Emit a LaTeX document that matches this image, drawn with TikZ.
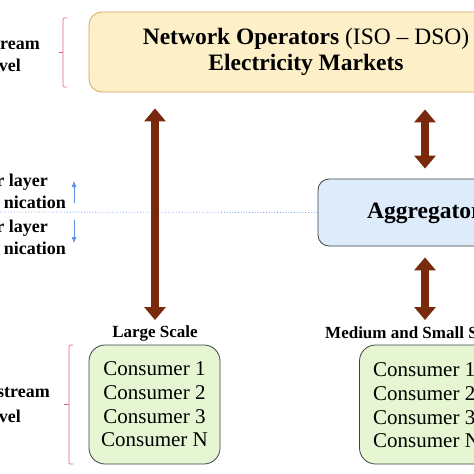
\documentclass[tikz,border=0pt]{standalone}
\usepackage{fontspec}
\setmainfont{Liberation Serif}
\usepackage{tikz}
\usetikzlibrary{arrows.meta,positioning,calc}
\definecolor{boxyellow}{HTML}{FDF0C8}
\definecolor{edgeyellow}{HTML}{D9A066}
\definecolor{boxblue}{HTML}{DDEBFA}
\definecolor{boxgreen}{HTML}{E6F6D2}
\definecolor{edgedark}{HTML}{3A4448}
\definecolor{arrowbrown}{HTML}{7A2A0C}
\definecolor{bracepink}{HTML}{D9608A}
\definecolor{linkblue}{HTML}{5B8EDC}

\begin{document}
\begin{tikzpicture}[x=1pt,y=-1pt,
  opsbox/.style={draw=edgeyellow,fill=boxyellow,line width=0.8pt,rounded corners=13pt,minimum width=434pt,minimum height=80pt,align=center,inner sep=0pt,font=\fontsize{23.5}{25.5}\selectfont},
  aggbox/.style={draw=edgedark,fill=boxblue,line width=0.8pt,rounded corners=11pt,minimum width=214pt,minimum height=67pt,inner sep=0pt},
  consbox/.style={draw=edgedark,fill=boxgreen,line width=0.8pt,rounded corners=16pt,minimum width=131pt,minimum height=119pt,align=center,inner sep=0pt,font=\fontsize{21}{23.7}\selectfont},
  scalelabel/.style={font=\fontsize{17}{19}\selectfont\bfseries,inner sep=0pt},
  sidelabel/.style={font=\fontsize{18}{20}\selectfont\bfseries,inner sep=0pt,anchor=east},
  bigarrow/.style={draw=arrowbrown,line width=7.5pt,>={Triangle[width=21pt,length=13pt]},<->},
  smallarrow/.style={draw=linkblue,line width=0.7pt,-{Latex[width=5pt,length=6pt]}},
  bracket/.style={draw=bracepink,line width=0.7pt,rounded corners=1pt}]
\useasboundingbox (0,0) rectangle (474,474);
\clip (0,0) rectangle (474,474);
% boxes
\node[opsbox] (ops) at (306,52) {\textbf{Network Operators} (ISO – DSO)\\\textbf{Electricity Markets}};
\node[aggbox] (agg) at (425,212.5) {};
\node[anchor=west,font=\fontsize{23.5}{25}\selectfont\bfseries,inner sep=0pt] (aggtext) at (367,213) {Aggregator};
\node[scalelabel] (large) at (155,333) {Large Scale};
\node[scalelabel,anchor=west] (medium) at (325,333) {Medium and Small Scale};
\node[consbox] (cons1) at (154.5,404.5) {Consumer 1\\Consumer 2\\Consumer 3\\Consumer N};
\node[consbox] (cons2) at (425,404.5) {};
\node[anchor=west,align=left,inner sep=0pt,font=\fontsize{21}{23.7}\selectfont] (cons2text) at (373,405.5) {Consumer 1\\Consumer 2\\Consumer 3\\Consumer N};
% layer line
\draw[draw=linkblue!80,line width=0.8pt,dotted] (0,212) -- (agg.west);
\draw[smallarrow] (74,203) -- (74,181);
\draw[smallarrow] (74,220) -- (74,243);
\node[sidelabel] (upa) at (48,182) {r layer};
\node[sidelabel] (upb) at (66,202) {nication};
\node[sidelabel] (lowa) at (48,228) {r layer};
\node[sidelabel] (lowb) at (66,248) {nication};
% level labels
\node[sidelabel] (ups) at (40,45) {ream};
\node[sidelabel] (upl) at (21,65) {vel};
\node[sidelabel] (downs) at (50,393) {stream};
\node[sidelabel] (downl) at (21,416) {vel};
\draw[bracket] (67,18) -- (63,18) -- (63,87) -- (67,87);
\draw[bracket] (63,52) -- (59,52);
\draw[bracket] (73,345) -- (69,345) -- (69,464) -- (73,464);
\draw[bracket] (69,404) -- (64,404);
% arrows
\draw[bigarrow,shorten <=16pt,shorten >=5pt] (large.north |- ops.south) -- (large.north);
\draw[bigarrow,shorten <=17pt,shorten >=10pt] (agg.north |- ops.south) -- (agg.north);
\draw[bigarrow,shorten <=11pt] (agg.south) -- (agg.south |- 0,320);
\end{tikzpicture}
\end{document}
